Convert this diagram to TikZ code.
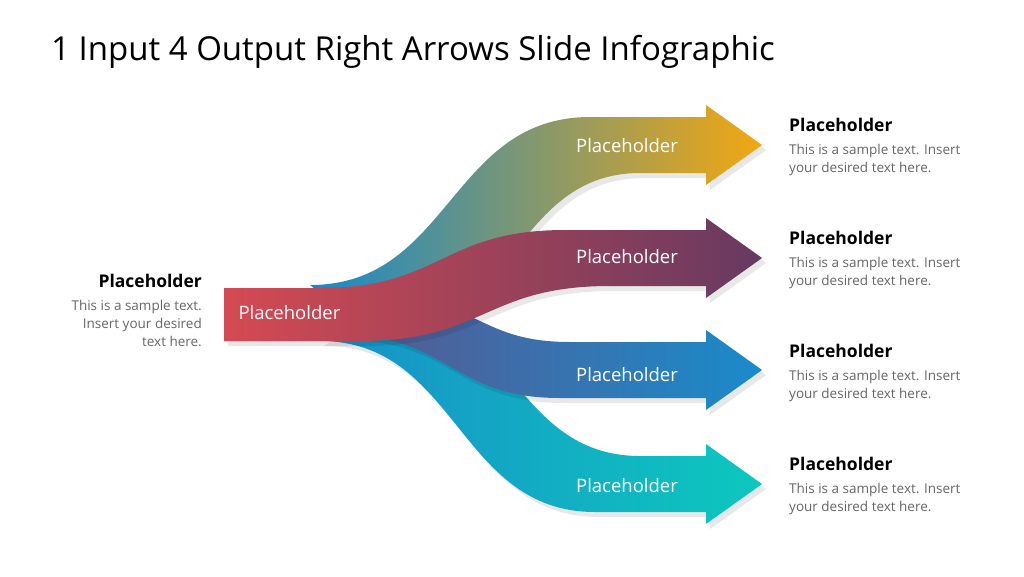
\documentclass[tikz,border=0pt]{standalone}
\usepackage{fontspec}
\setmainfont{Open Sans}
\begin{document}
\begin{tikzpicture}[x=1pt,y=-1pt,
  lbl/.style={text=white,font=\fontsize{18.5}{20}\selectfont},
  head/.style={font=\bfseries\fontsize{17.5}{20}\selectfont,anchor=west,inner sep=0},
  body/.style={text=black!60,font=\fontsize{13.5}{18}\selectfont,align=left,anchor=north west,inner sep=0},
  shadow/.style={fill=black,opacity=0.09}]
\useasboundingbox (0,0) rectangle (1024,576);
\newcommand\bandpath[7]{(#1,#2) .. controls ({(#1+#3)/2},#2) and ({(#1+#3)/2},#7-28) .. (#3,#7-28) -- (706,#7-28) -- (706,#7-40) -- (762,#7) -- (706,#7+40) -- (706,#7+28) -- (#6,#7+28) .. controls ({(#4+#6)/2},#7+28) and ({(#4+#6)/2},#5) .. (#4,#5) -- cycle}
\definecolor{cA1}{HTML}{1689C9}\definecolor{cA2}{HTML}{F2A712}
\definecolor{cB1}{HTML}{D44A52}\definecolor{cB2}{HTML}{663A60}
\definecolor{cC1}{HTML}{585890}\definecolor{cC2}{HTML}{1A8BCB}
\definecolor{cD1}{HTML}{1890C8}\definecolor{cD2}{HTML}{0CC8BE}
% arrow 1
\fill[shadow,xshift=4pt,yshift=-5pt] \bandpath{310}{285}{590}{380}{341}{640}{145};
\shade[left color=cA1,right color=cA2] \bandpath{310}{285}{590}{380}{341}{640}{145};
% arrow 4
\fill[shadow,xshift=4pt,yshift=-5pt] \bandpath{380}{300}{640}{320}{341}{595}{484};
\shade[left color=cD1,right color=cD2] \bandpath{380}{300}{640}{320}{341}{595}{484};
% arrow 3
\fill[shadow,xshift=4pt,yshift=-5pt] \bandpath{390}{300}{570}{340}{335}{560}{370};
\shade[left color=cC1,right color=cC2] \bandpath{390}{300}{570}{340}{335}{560}{370};
% arrow 2 with input
\fill[shadow,xshift=4pt,yshift=-5pt] (224,288) -- (320,288) .. controls (442,288) and (442,230) .. (565,230) -- (706,230) -- (706,218) -- (762,258) -- (706,298) -- (706,286) -- (610,286) .. controls (485,286) and (485,341) .. (360,341) -- (224,341) -- cycle;
\shade[left color=cB1,right color=cB2] (224,288) -- (320,288) .. controls (442,288) and (442,230) .. (565,230) -- (706,230) -- (706,218) -- (762,258) -- (706,298) -- (706,286) -- (610,286) .. controls (485,286) and (485,341) .. (360,341) -- (224,341) -- cycle;
\node[lbl,anchor=west] (in) at (235,313) {Placeholder};
\node[lbl] (o1) at (627,146) {Placeholder};
\node[lbl] (o2) at (627,257) {Placeholder};
\node[lbl] (o3) at (627,375) {Placeholder};
\node[lbl] (o4) at (627,486) {Placeholder};
\node[anchor=west,inner sep=0,font=\fontsize{33}{36}\selectfont] (title) at (51,52) {1 Input 4 Output Right Arrows Slide Infographic};
\node[head,anchor=east] (lh) at (202,281) {Placeholder};
\node[body,align=right,anchor=north east] (lb) at (202,300) {This is a sample text.\\Insert your desired\\text here.};
\foreach \y/\n in {125/1,238/2,351/3,464/4}{
  \node[head] (h\n) at (789,\y) {Placeholder};
  \node[body] (b\n) at (789,\y+19) {This is a sample text. Insert\\your desired text here.};
}
\end{tikzpicture}
\end{document}
